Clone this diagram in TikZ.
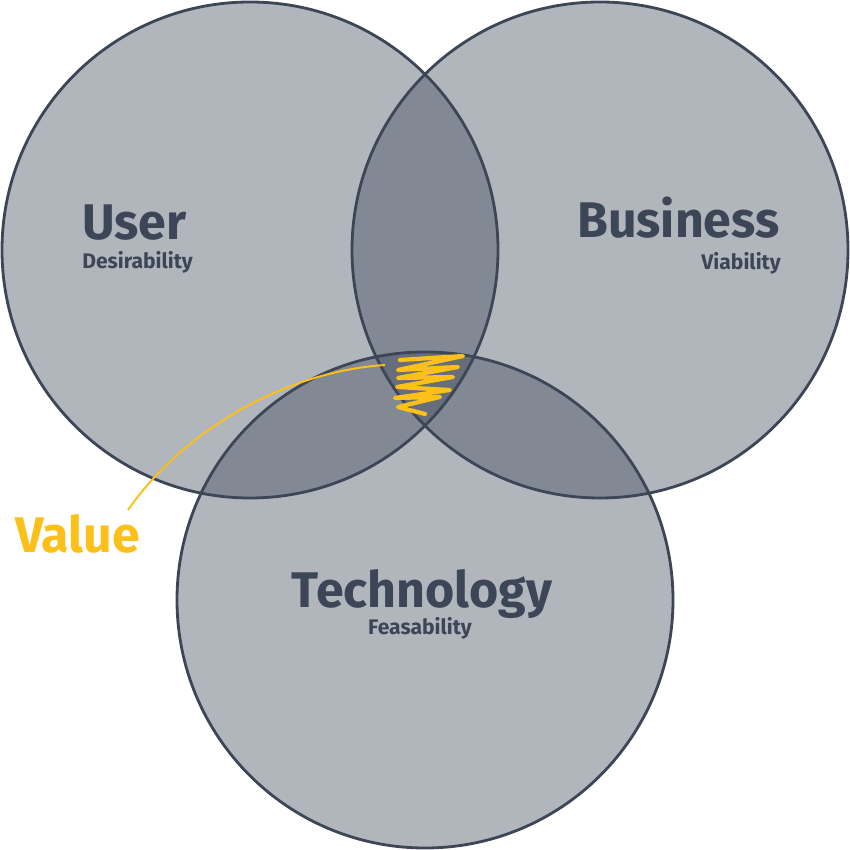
\documentclass[tikz,border=0pt]{standalone}
\usepackage{fontspec}
\setmainfont{Fira Sans}
\definecolor{slate}{HTML}{3D4657}
\definecolor{gold}{HTML}{FCC01A}
\begin{document}
\begin{tikzpicture}[
		title/.style={inner sep=0, text=slate, font=\bfseries\fontsize{28.5}{30}\selectfont},
		sub/.style={inner sep=0, text=slate, font=\bfseries\fontsize{12}{14}\selectfont}
	]
		\useasboundingbox (0, 0) rectangle (17, 17);
		\foreach \x/\y in {5/12, 12/12, 8.5/5} {
			\fill[slate, fill opacity=.4] (\x, \y) circle (4.96);
		}
		\foreach \x/\y in {5/12, 12/12, 8.5/5} {
			\draw[slate, line width=1.6] (\x, \y) circle (4.96);
		}

		\node[title, anchor=base west] (user) at (1.64, 12.2) {User};
		\node[sub, anchor=base west] (desire) at (1.64, 11.62) {Desirability};
		\node[title, anchor=base east] (business) at (15.6, 12.24) {Business};
		\node[sub, anchor=base east] (viable) at (15.62, 11.6) {Viability};
		\node[title, anchor=base] (tech) at (8.44, 4.84) {Technology};
		\node[sub, anchor=base] (feasible) at (8.4, 4.3) {Feasability};

		% the sweet spot
		\draw[gold, line width=2.4, line join=round, line cap=round] (8, 9.8) -- (9.26, 9.88) -- (7.96, 9.6) -- (9.16, 9.66) -- (7.96, 9.44) -- (9.06, 9.46) -- (7.94, 9.26) -- (9, 9.2) -- (7.9, 9.04) -- (8.8, 9.06) -- (7.96, 8.86) -- (8.5, 8.72);
		\node[title, text=gold, anchor=base west] (value) at (0.3, 5.94) {Value};
		\coordinate (tip) at (2.56, 6.8);
		\coordinate (spot) at (7.7, 9.7);
		\draw[gold, line width=1.1] (tip) .. controls (3.6, 8.3) and (5.6, 9.56) .. (spot);
	\end{tikzpicture}
\end{document}
